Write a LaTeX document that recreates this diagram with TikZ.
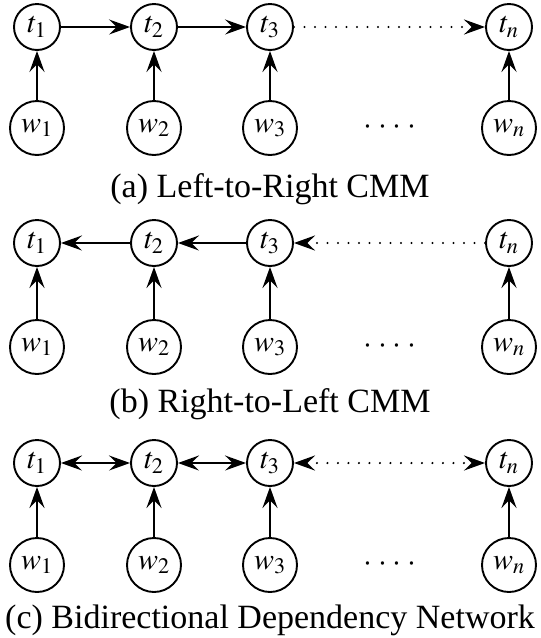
\documentclass[tikz,border=0pt]{standalone}
\usepackage{mathptmx}
\usepackage[no-math]{fontspec}
\setmainfont{Liberation Serif}
\usetikzlibrary{arrows.meta}
\begin{document}
\begin{tikzpicture}[x=1pt,y=-1pt,
  lw/.style={line width=1.9pt},
  tnode/.style={circle,draw,lw,minimum size=46pt,inner sep=0pt,font=\fontsize{30}{36}\selectfont},
  wnode/.style={circle,draw,lw,minimum size=54pt,inner sep=0pt,font=\fontsize{30}{36}\selectfont},
  tip/.tip={Stealth[length=21pt,width=15pt,inset=7.5pt]},
  arr/.style={lw,-tip},
  dotline/.style={line width=2.3pt,dash pattern=on 0pt off 10.5pt,line cap=round},
  captext/.style={anchor=base,font=\fontsize{34}{40}\selectfont},
  dotstext/.style={font=\fontsize{32}{36}\selectfont,inner sep=0pt}]
\useasboundingbox (0,0) rectangle (541,638);
\foreach \p/\ty/\wy in {a/27/128,b/243/347,c/463/565}{
  \node[tnode] (t1\p) at (37,\ty) {$t_1$};
  \node[tnode] (t2\p) at (154,\ty) {$t_2$};
  \node[tnode] (t3\p) at (270,\ty) {$t_3$};
  \node[tnode] (tn\p) at (509,\ty) {$t_n$};
  \node[wnode] (w1\p) at (37,\wy) {$w_1$};
  \node[wnode] (w2\p) at (154,\wy) {$w_2$};
  \node[wnode] (w3\p) at (270,\wy) {$w_3$};
  \node[wnode] (wn\p) at (509,\wy) {$w_n$};
  \node[dotstext] (d\p) at (390,\wy) {\makebox[15pt]{$\cdot$}\makebox[15pt]{$\cdot$}\makebox[15pt]{$\cdot$}\makebox[15pt]{$\cdot$}};
  \draw[arr] (w1\p) -- (t1\p);
  \draw[arr] (w2\p) -- (t2\p);
  \draw[arr] (w3\p) -- (t3\p);
  \draw[arr] (wn\p) -- (tn\p);
}
% (a)
\draw[arr] (t1a) -- (t2a);
\draw[arr] (t2a) -- (t3a);
\draw[dotline,-tip] (t3a) -- (tna);
\node[captext] (capa) at (270,197) {(a) Left-to-Right CMM};
% (b)
\draw[arr] (t2b) -- (t1b);
\draw[arr] (t3b) -- (t2b);
\draw[dotline,-tip] (tnb) -- (t3b);
\node[captext] (capb) at (270,412) {(b) Right-to-Left CMM};
% (c)
\draw[lw,tip-tip] (t1c) -- (t2c);
\draw[lw,tip-tip] (t2c) -- (t3c);
\draw[dotline,tip-tip] (t3c) -- (tnc);
\node[captext] (capc) at (270,628) {(c) Bidirectional Dependency Network};
\end{tikzpicture}
\end{document}
